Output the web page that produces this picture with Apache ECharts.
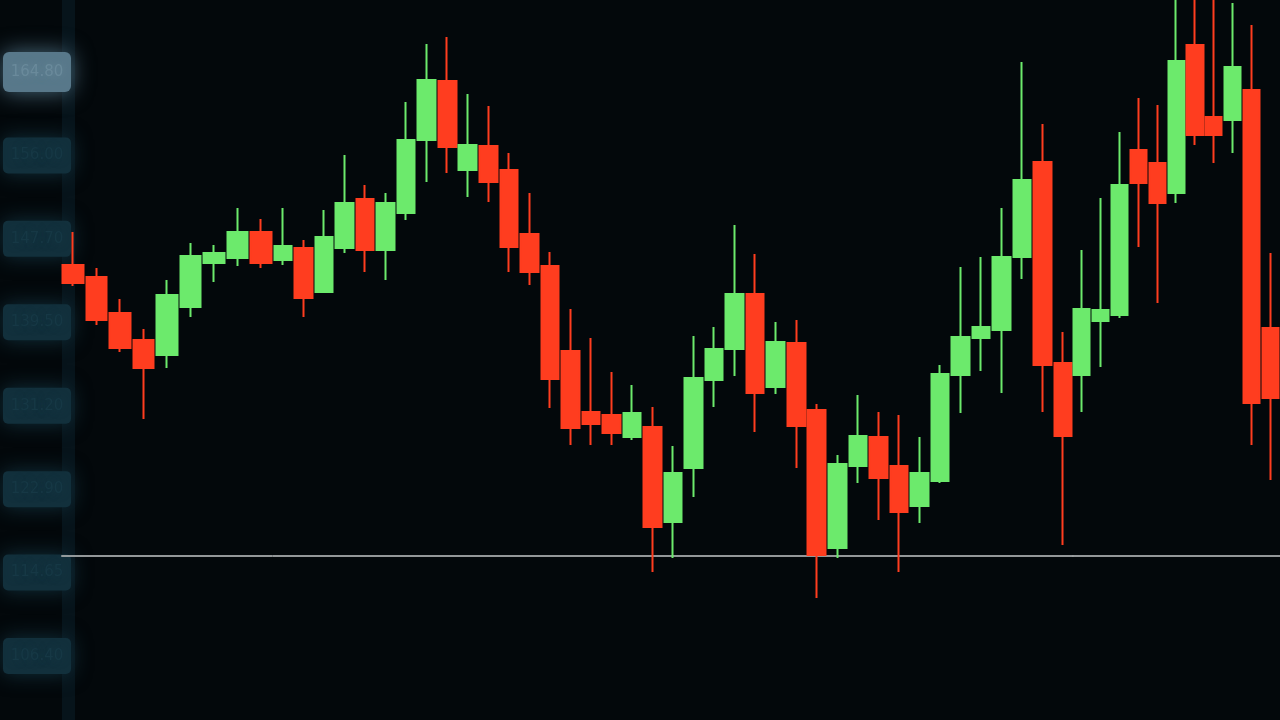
<!DOCTYPE html>
<html>
<head>
<meta charset="utf-8">
<style>
  html, body { margin: 0; padding: 0; background: #03080b; }
  #chart { width: 1280px; height: 720px; }
</style>
<script src="https://cdn.jsdelivr.net/npm/echarts@6/dist/echarts.min.js"></script>
</head>
<body>
<div id="chart"></div>
<script>
// ---- data (price units) ----
const categories = Array.from({ length: 59 }, (_, i) => 'T' + (i + 1));
const opens = [
  145.5,144.3,140.7,138.0,136.5,141.3,145.7,146.2,148.8,
  146.0,147.2,142.8,147.2,152.1,147.0,150.7,158.0,163.9,155.0,157.4,155.0,148.6,145.4,136.9,130.8,130.5,128.3,129.3,119.8,125.2,134.0,137.1,142.6,133.3,137.7,131.0,117.2,125.4,128.3,125.4,121.4,123.9,134.5,138.2,139.0,146.3,155.8,135.7,
  134.5,139.9,140.5,157.0,155.7,152.7,167.5,160.3,160.0,163.0,139.2
];
const closes = [
  143.7,140.0,137.2,135.2,142.5,146.4,146.7,148.8,145.7,
  147.4,142.2,148.3,151.7,147.0,151.7,158.0,164.0,157.3,157.5,153.8,147.3,144.8,134.1,129.2,129.6,128.7,130.7,119.3,124.7,134.2,137.1,142.6,132.7,137.8,129.4,116.5,125.6,128.4,124.2,120.8,124.7,134.6,138.3,139.3,146.3,154.0,135.5,128.4,
  141.1,141.0,153.5,153.7,151.7,165.9,158.5,158.5,165.3,131.7,132.2
];
const lows = [
  143.4,139.5,136.8,130.1,135.2,140.3,143.8,145.4,145.2,
  145.5,140.3,142.7,146.7,144.8,144.0,150.0,153.8,154.7,152.3,151.8,144.8,143.5,131.2,127.5,127.5,127.5,128.0,114.8,116.2,122.3,131.3,134.4,128.8,132.6,125.2,112.2,116.2,123.7,120.0,114.8,119.7,123.7,130.7,134.9,132.7,144.1,130.8,117.5,
  130.8,135.3,140.2,147.3,141.7,151.7,157.5,155.7,156.7,127.5,124.0
];
const highs = [
  148.8,145.2,142.1,139.1,144.0,147.7,147.5,151.2,150.1,
  151.2,148.0,151.0,156.5,153.5,152.7,161.8,167.6,168.3,162.6,161.4,156.7,152.7,146.8,141.1,138.2,134.8,133.5,131.3,127.4,138.4,139.3,149.5,146.6,139.8,140.0,131.6,126.5,132.5,130.8,130.5,128.3,135.5,145.3,146.3,151.2,165.8,159.6,138.8,
  147.0,152.2,158.8,162.2,161.5,174.0,174.0,174.0,171.7,169.5,146.7
];
const tickLabels = ['106.40','114.65','122.90','131.20','139.50','147.70','156.00','164.80'];
const supportLevel = 116.4;

// ---- layout (photo perspective: spacing varies across the screen) ----
const segments = [
  { from: 0,  to: 9,  firstCenter: 73,   step: 23.5 },
  { from: 9,  to: 48, firstCenter: 283,  step: 20.53 },
  { from: 48, to: 59, firstCenter: 1082, step: 19.3 }
];
const yMin = 100, yMax = 172;
const UP = '#6cea6c', DOWN = '#ff3d1f';

const grids = [], xAxes = [], yAxes = [], series = [];
segments.forEach((s, gi) => {
  const n = s.to - s.from;
  grids.push({ left: s.firstCenter - s.step / 2, width: n * s.step, top: 0, height: 720, containLabel: false });
  xAxes.push({ type: 'category', gridIndex: gi, data: categories.slice(s.from, s.to), boundaryGap: true, show: false });
  yAxes.push({ type: 'value', gridIndex: gi, min: yMin, max: yMax, show: false, splitLine: { show: false } });
  const d = [];
  for (let i = s.from; i < s.to; i++) d.push([opens[i], closes[i], lows[i], highs[i]]);
  series.push({
    type: 'candlestick', xAxisIndex: gi, yAxisIndex: gi, data: d, barWidth: '88%', clip: true,
    itemStyle: { color: UP, color0: DOWN, borderColor: UP, borderColor0: DOWN, borderWidth: 2 },
    markLine: {
      silent: true, symbol: ['none', 'none'], animation: false, z: 1,
      label: { show: false },
      lineStyle: { color: '#a3a7a9', width: 2, type: 'solid', opacity: 0.9 },
      data: [{ yAxis: supportLevel }]
    }
  });
});

// blurred price-label column on the left
const LG = grids.length;
grids.push({ left: 63, width: 10, top: 72, height: 584 });
xAxes.push({ type: 'category', gridIndex: LG, data: [''], show: false });
yAxes.push({
  type: 'category', gridIndex: LG, data: tickLabels, boundaryGap: false, position: 'left',
  axisLine: { show: false }, axisTick: { show: false }, splitLine: { show: false },
  axisLabel: {
    show: true, margin: -3, interval: 0,
    formatter: (v, idx) => idx === tickLabels.length - 1 ? '{hi|' + v + '}' : '{n|' + v + '}',
    rich: {
      n: { width: 68, height: 36, align: 'center', backgroundColor: '#12303c', borderRadius: 5,
           shadowBlur: 20, shadowColor: '#12303c', color: '#163845', fontSize: 15, fontFamily: 'DejaVu Sans',
           textShadowBlur: 8, textShadowColor: '#163845' },
      hi: { width: 68, height: 40, align: 'center', backgroundColor: '#58788a', borderRadius: 6,
            shadowBlur: 22, shadowColor: '#4a6a7c', color: '#6a8a9b', fontSize: 15, fontFamily: 'DejaVu Sans',
            textShadowBlur: 8, textShadowColor: '#6a8a9b' }
    }
  }
});

const chart = echarts.init(document.getElementById('chart'), null, { renderer: 'canvas' });
chart.setOption({
  backgroundColor: '#03080b',
  animation: false,
  graphic: [{
    type: 'rect', z: 0, silent: true,
    shape: { x: 62, y: 0, width: 13, height: 720 },
    style: { fill: '#07141b' }
  }],
  grid: grids,
  xAxis: xAxes,
  yAxis: yAxes,
  series: series
});
</script>
</body>
</html>
